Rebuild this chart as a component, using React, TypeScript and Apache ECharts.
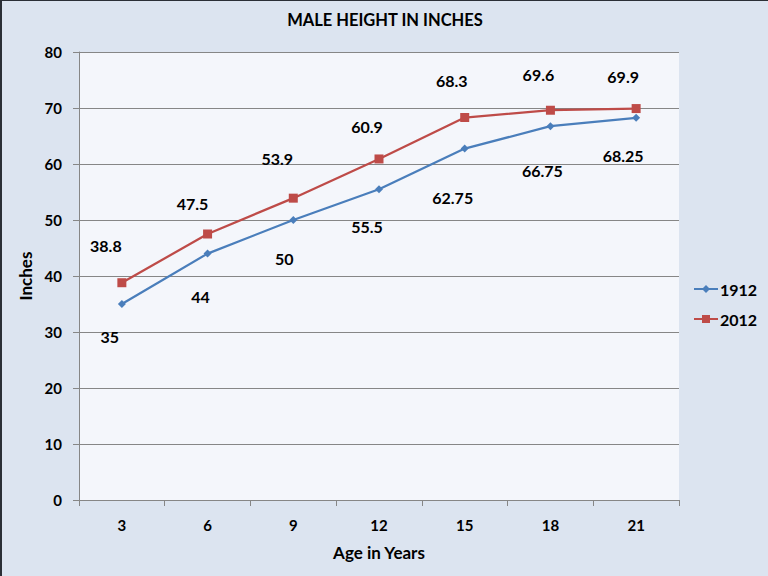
import { useEffect, useRef } from 'react'
import * as echarts from 'echarts'

const ages = ['3', '6', '9', '12', '15', '18', '21']
const heights1912 = [35, 44, 50, 55.5, 62.75, 66.75, 68.25]
const heights2012 = [38.8, 47.5, 53.9, 60.9, 68.3, 69.6, 69.9]

// hand-placed label shifts (as in the original sheet)
const shift1912 = [[-12, 32], [-7, 43], [-9, 38], [-12, 37], [-12, 49], [-8, 44], [-13, 38]]
const shift2012 = [[-16, -37], [-15, -31], [-16, -40], [-12, -32], [-13, -37], [-12, -36], [-13, -32]]

const FONT = 'Lato, "Open Sans", sans-serif'

const App = () => {
  const chartRef = useRef<HTMLDivElement | null>(null)

  useEffect(() => {
    if (!chartRef.current) return
    const chart = echarts.init(chartRef.current, null, { renderer: 'svg' })

    const labelStyle = {
      show: true,
      position: 'inside',
      color: '#000',
      fontFamily: FONT,
      fontWeight: 'bold',
      fontSize: 16
    }

    const option = {
      animation: false,
      backgroundColor: '#DCE4F0',
      textStyle: { fontFamily: FONT },
      title: {
        text: 'MALE HEIGHT IN INCHES',
        left: 'center',
        top: 5,
        textStyle: { fontFamily: FONT, fontWeight: 'bold', fontSize: 16.5, color: '#000' }
      },
      legend: {
        orient: 'vertical',
        left: 686,
        top: 275,
        itemWidth: 24,
        itemHeight: 10,
        itemGap: 14,
        textStyle: { fontFamily: FONT, fontWeight: 'bold', fontSize: 16, color: '#000', padding: [0, 0, 0, -3] },
        data: ['1912', '2012']
      },
      grid: {
        left: 77,
        right: 89,
        top: 51,
        bottom: 76,
        show: true,
        backgroundColor: '#F4F6FB',
        borderWidth: 0
      },
      xAxis: {
        type: 'category',
        data: ages,
        boundaryGap: true,
        name: 'Age in Years',
        nameLocation: 'middle',
        nameGap: 44,
        nameTextStyle: { fontFamily: FONT, fontWeight: 'bold', fontSize: 17, color: '#000' },
        axisLine: { lineStyle: { color: '#868686' } },
        axisTick: { show: true, alignWithLabel: false, length: 6, lineStyle: { color: '#868686' } },
        axisLabel: { margin: 17, color: '#000', fontFamily: FONT, fontWeight: 'bold', fontSize: 15 }
      },
      yAxis: {
        type: 'value',
        min: 0,
        max: 80,
        interval: 10,
        name: 'Inches',
        nameLocation: 'middle',
        nameGap: 41,
        nameTextStyle: { fontFamily: FONT, fontWeight: 'bold', fontSize: 17, color: '#000' },
        axisLine: { show: true, lineStyle: { color: '#868686' } },
        axisTick: { show: true, length: 6, lineStyle: { color: '#868686' } },
        axisLabel: { margin: 17, color: '#000', fontFamily: FONT, fontWeight: 'bold', fontSize: 15 },
        splitLine: { lineStyle: { color: '#868686', width: 1 } }
      },
      series: [
        {
          name: '1912',
          type: 'line',
          symbol: 'diamond',
          symbolSize: 8,
          color: '#4A7EBB',
          lineStyle: { width: 2.25, color: '#4A7EBB' },
          itemStyle: { color: '#4A7EBB' },
          data: heights1912.map((v, i) => ({
            value: v,
            label: { ...labelStyle, offset: shift1912[i] }
          }))
        },
        {
          name: '2012',
          type: 'line',
          symbol: 'rect',
          symbolSize: 9,
          color: '#BE4B48',
          lineStyle: { width: 2.25, color: '#BE4B48' },
          itemStyle: { color: '#BE4B48' },
          data: heights2012.map((v, i) => ({
            value: v,
            label: { ...labelStyle, offset: shift2012[i] }
          }))
        }
      ]
    }

    chart.setOption(option as any)
    return () => chart.dispose()
  }, [])

  return (
    <div
      style={{
        position: 'absolute',
        left: 0,
        top: 0,
        width: 768,
        height: 576,
        boxSizing: 'border-box',
        borderLeft: '2px solid #2b2f36',
        borderTop: '1px solid #2b2f36',
        background: '#DCE4F0'
      }}
    >
      <div ref={chartRef} style={{ width: 766, height: 575 }} />
    </div>
  )
}

export default App
